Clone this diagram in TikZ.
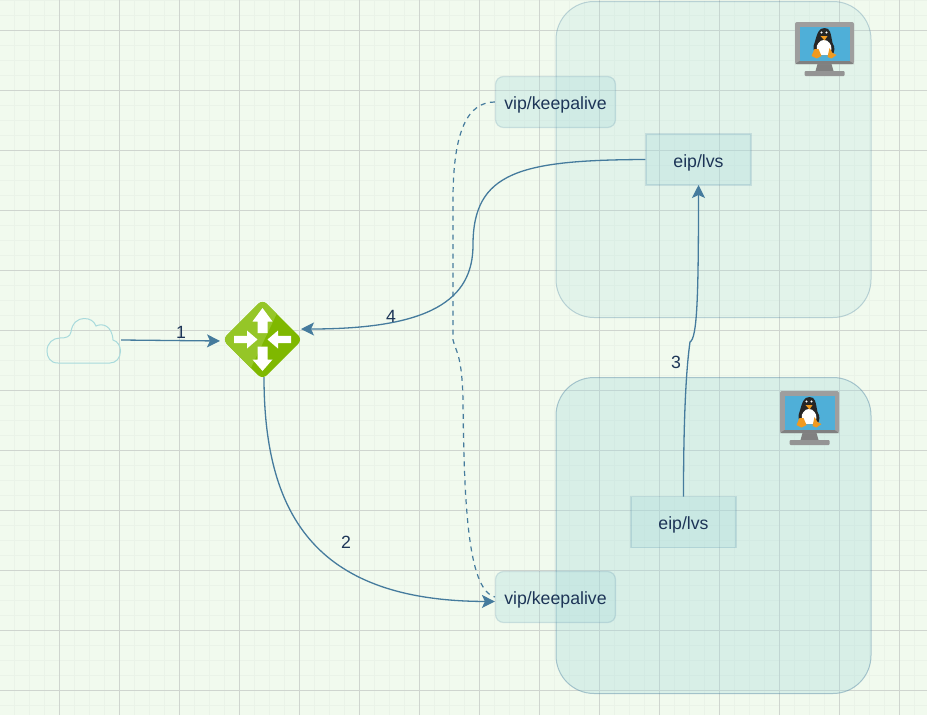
\documentclass[tikz,border=0pt]{standalone}
\usepackage{fontspec}
\setmainfont{Liberation Sans}
\usetikzlibrary{arrows.meta}
\definecolor{bgc}{HTML}{F1FAEE}
\definecolor{edgec}{HTML}{457B9D}
\definecolor{fillc}{HTML}{A8DADC}
\definecolor{txtc}{HTML}{1D3557}
\definecolor{majorc}{HTML}{CFD5CF}
\definecolor{minorc}{HTML}{EAF3E8}
\definecolor{screenc}{HTML}{4FAFD8}
\definecolor{greenD}{HTML}{7FB800}
\definecolor{greenL}{HTML}{95C627}
\definecolor{footc}{HTML}{F09A20}
\tikzset{
  x=1pt,y=-1pt,
  flow/.style={draw=edgec,line width=1.3pt,-{Stealth[length=13pt,width=13pt,inset=3pt]}},
  dashflow/.style={draw=edgec,line width=1.2pt,dash pattern=on 5pt off 4.5pt},
  hostbox/.style={draw=edgec,line width=1pt,rounded corners=38pt,minimum width=315pt,minimum height=316pt,inner sep=0pt},
  lvsbox/.style={draw=edgec,draw opacity=0.18,fill=fillc,fill opacity=0.3,text opacity=1,line width=1.2pt,minimum width=105pt,minimum height=51pt,inner sep=0pt,text=txtc,text height=18pt,text depth=3pt,font=\fontsize{17.7}{20}\selectfont},
  vipbox/.style={lvsbox,rounded corners=8pt,minimum width=120pt},
  lab/.style={text=txtc,font=\fontsize{17.7}{20}\selectfont,inner sep=0pt},
}
\newcommand{\linuxpc}[2]{%
\begin{scope}[shift={(#1,#2)}]
  \fill[black!50] (-7,21) -- (7,21) -- (9,28) -- (-9,28) -- cycle;
  \fill[rounded corners=1pt,black!42] (-20,28) rectangle (20,33);
  \fill[rounded corners=2pt,black!38] (-29.5,-21) rectangle (29.5,21);
  \fill[black!50] (-25,18) -- (25,18) -- (29.5,21) -- (-29.5,21) -- cycle;
  \fill[screenc] (-25,-16) rectangle (25,18);
  \fill[black!85] (-10,0) .. controls (-7,-10) and (-6,-15) .. (0,-15) .. controls (6,-15) and (6,-10) .. (8,0) .. controls (11,4) and (10,9) .. (8,12) -- (-8,12) .. controls (-11,9) and (-12,4) .. (-10,0) -- cycle;
  \fill[white] (-6,0) .. controls (-4,-4) and (3,-4) .. (5,0) .. controls (8,3) and (7,9) .. (5,12) -- (-5,12) .. controls (-8,9) and (-9,3) .. (-6,0) -- cycle;
  \fill[footc] (-4,-7) -- (3,-7) -- (0,-2.5) -- cycle;
  \fill[footc] (-10,6) -- (-6,6) -- (-3,13) -- (-8,15.5) -- (-13,13) -- cycle;
  \fill[footc] (5,5) -- (8,10) -- (12,12) -- (7,15.5) -- (3,14) -- cycle;
  \fill[white] (-3,-10.5) circle (1.2) (2,-10.5) circle (1.2);
\end{scope}}
\begin{document}
\begin{tikzpicture}
\useasboundingbox (0,0) rectangle (927,715);
\fill[bgc] (0,0) rectangle (927,715);
% minor grid
\foreach \i in {0,...,61}{\draw[minorc,line width=1.2pt] ({14.5+15*\i},0) -- ({14.5+15*\i},715);}
\foreach \i in {0,...,47}{\draw[minorc,line width=1.2pt] (0,{0.5+15*\i}) -- (927,{0.5+15*\i});}
% major grid
\foreach \i in {0,...,14}{\draw[majorc,line width=1pt] ({59.5+60*\i},0) -- ({59.5+60*\i},715);}
\foreach \i in {0,...,11}{\draw[majorc,line width=1pt] (0,{30.5+60*\i}) -- (927,{30.5+60*\i});}
% hosts
\node[hostbox,fill=fillc,fill opacity=0.2,draw opacity=0.3] (hostA) at (713.5,159.5) {};
\node[hostbox,fill=fillc,fill opacity=0.34,draw opacity=0.4] (hostB) at (713.5,535.5) {};
% icons
\linuxpc{824.5}{43}
\linuxpc{809.5}{412}
% boxes
\node[lvsbox] (eipA) at (698.5,159.5) {eip/lvs};
\node[lvsbox] (eipB) at (683.5,522) {eip/lvs};
\node[vipbox] (vipA) at (555.5,102) {vip/keepalive};
\node[vipbox] (vipB) at (555.5,597) {vip/keepalive};
% cloud
\node[minimum width=75pt,minimum height=45pt,inner sep=0pt] (cloud) at (83.5,341) {};
\draw[fillc,line width=1pt] (58,363) .. controls (50,363) and (47,357) .. (47,351)
  .. controls (47,343) and (53,338) .. (60,338) .. controls (66,338) and (70,337) .. (71,332)
  .. controls (72,323) and (78,318.5) .. (84,318.5) .. controls (90,318.5) and (94,321) .. (96,326)
  .. controls (102,323) and (112,325) .. (113,340)
  .. controls (118,341) and (120.5,347) .. (120.5,351) .. controls (120.5,358) and (116,363) .. (110,363) -- cycle;
% router
\coordinate (rc) at (262.5,339.5);
\begin{scope}[shift={(rc)}]
  \fill[greenD,rounded corners=6pt] (0,-40) -- (40,0) -- (0,40) -- (-40,0) -- cycle;
  \begin{scope}
    \clip (-42,-42) -- (22,-42) -- (-18,42) -- (-42,42) -- cycle;
    \fill[greenL,rounded corners=6pt] (0,-40) -- (40,0) -- (0,40) -- (-40,0) -- cycle;
  \end{scope}
  \fill[white] (-5,-6.5) -- (5,-6.5) -- (5,-18) -- (10,-18) -- (0,-31.5) -- (-10,-18) -- (-5,-18) -- cycle;
  \fill[white] (-5,7) -- (5,7) -- (5,20) -- (10,20) -- (0,31.5) -- (-10,20) -- (-5,20) -- cycle;
  \fill[white] (-28.5,-3.7) -- (-15.5,-3.7) -- (-15.5,-9) -- (-5,0) -- (-15.5,9) -- (-15.5,3.7) -- (-28.5,3.7) -- cycle;
  \fill[white] (28.5,-3.7) -- (15.5,-3.7) -- (15.5,-9) -- (5,0) -- (15.5,9) -- (15.5,3.7) -- (28.5,3.7) -- cycle;
\end{scope}
\node[minimum width=76pt,minimum height=76pt,inner sep=0pt] (router) at (rc) {};
% connectors
\draw[flow] (cloud.east) ++(0,-1) -- (220,341);
\draw[flow] (264,377) .. controls (264,520) and (320,601) .. ([yshift=-4.5pt]vipB.west);
\draw[flow] (683.5,496.5) .. controls (683.5,420) and (686,370) .. (690,342) .. controls (697,338) and (698.5,300) .. (698.5,185);
\draw[flow] (eipA.west) .. controls (520,160) and (473,172) .. (473,245) .. controls (473,300) and (430,329) .. (301,329);
\draw[dashflow] (vipA.west) .. controls (468,102) and (453,130) .. (453,200) -- (453,340) .. controls (456,352) and (462,355) .. (463,400) .. controls (464,520) and (470,590) .. (vipB.west);
% labels
\node[lab] (l1) at (181,332) {1};
\node[lab] (l2) at (346,542) {2};
\node[lab] (l3) at (676,362) {3};
\node[lab] (l4) at (391,316) {4};
\end{tikzpicture}
\end{document}
